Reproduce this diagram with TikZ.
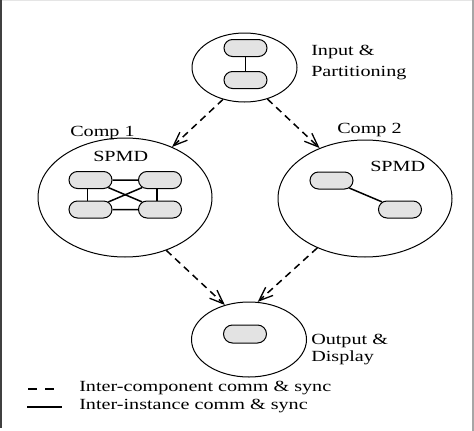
\documentclass[tikz,border=0pt]{standalone}
\usepackage{fontspec}
\setmainfont{Liberation Serif}
\usetikzlibrary{shapes.geometric,shapes.misc,arrows.meta}
\tikzset{
  comp/.style={draw, ellipse, line width=1pt, inner sep=0pt},
  pill/.style={draw, rounded rectangle, fill=gray!22, line width=1pt, minimum width=43pt, minimum height=17pt, inner sep=0pt},
  link/.style={line width=1.5pt},
  flow/.style={line width=1.5pt, dash pattern=on 7pt off 5pt, -{Straight Barb[length=14pt,width=11pt,line width=1.3pt]}},
  lbl/.style={font=\fontsize{15.5}{18}\selectfont, inner sep=0pt, xscale=1.3, anchor=base west},
}
\begin{document}
\begin{tikzpicture}[x=1pt,y=-1pt]
\useasboundingbox (0,0) rectangle (474,431);
\fill[white] (0,0) rectangle (474,431);
% frame
\draw[gray!20, line width=1pt] (0,0.5) -- (474,0.5);
\draw[black!75, line width=2pt] (1,0) -- (1,428);
\draw[gray!70, line width=1.5pt] (473,0) -- (473,431);

% components
\node[comp, minimum width=105pt, minimum height=69pt] (in) at (244.5,67.5) {};
\node[comp, minimum width=174pt, minimum height=119pt] (c1) at (125,197.5) {};
\node[comp, minimum width=174pt, minimum height=117pt] (c2) at (365,198.5) {};
\node[comp, minimum width=115pt, minimum height=75pt] (out) at (249,339.5) {};

% input pills
\node[pill] (ia) at (245.5,48) {};
\node[pill] (ib) at (245.5,80) {};
\draw[link] (ia) -- (ib);

% comp1 pills
\node[pill] (tl) at (90.5,180) {};
\node[pill] (tr) at (160,180) {};
\node[pill] (bl) at (90.5,209.5) {};
\node[pill] (br) at (160,209.5) {};
\draw[link] (tl) -- (tr);
\draw[link] (bl) -- (br);
\draw[link] ([xshift=-3pt]tl.south) -- ([xshift=-3pt]bl.north);
\draw[link] ([xshift=-3pt]tr.south) -- ([xshift=-3pt]br.north);
\draw[link] (tl) -- (br);
\draw[link] (bl) -- (tr);

% comp2 pills
\node[pill] (pa) at (331.5,180.5) {};
\node[pill] (pb) at (400,209.5) {};
\draw[link] (pa) -- (pb);

% output pill
\node[pill, minimum height=18pt] (op) at (245,334) {};

% flows
\draw[flow] (in.236) -- (c1.47);
\draw[flow] (in.306) -- (c2.132);
\draw[flow] (c1.308) -- (out.125);
\draw[flow] (c2.226) -- (out.77);

% labels
\node[lbl] (tin1) at (311,55.7) {Input \&};
\node[lbl] (tin2) at (311,76.7) {Partitioning};
\node[lbl] (tc1) at (70,136.7) {Comp 1};
\node[lbl] (tc2) at (337,133.3) {Comp 2};
\node[lbl] (ts1) at (93,161.7) {SPMD};
\node[lbl] (ts2) at (370,171.7) {SPMD};
\node[lbl] (to1) at (311,344) {Output \&};
\node[lbl] (to2) at (311,361) {Display};

% legend
\coordinate (d1a) at (28,389); \coordinate (d1b) at (37,389);
\coordinate (d2a) at (45,389); \coordinate (d2b) at (54,389);
\coordinate (s1a) at (27,407); \coordinate (s1b) at (62,407);
\draw[link] (d1a) -- (d1b);
\draw[link] (d2a) -- (d2b);
\draw[link] (s1a) -- (s1b);
\node[lbl] (tl1) at (79,391.7) {Inter-component comm \& sync};
\node[lbl] (tl2) at (79,409.3) {Inter-instance comm \& sync};
\end{tikzpicture}
\end{document}
